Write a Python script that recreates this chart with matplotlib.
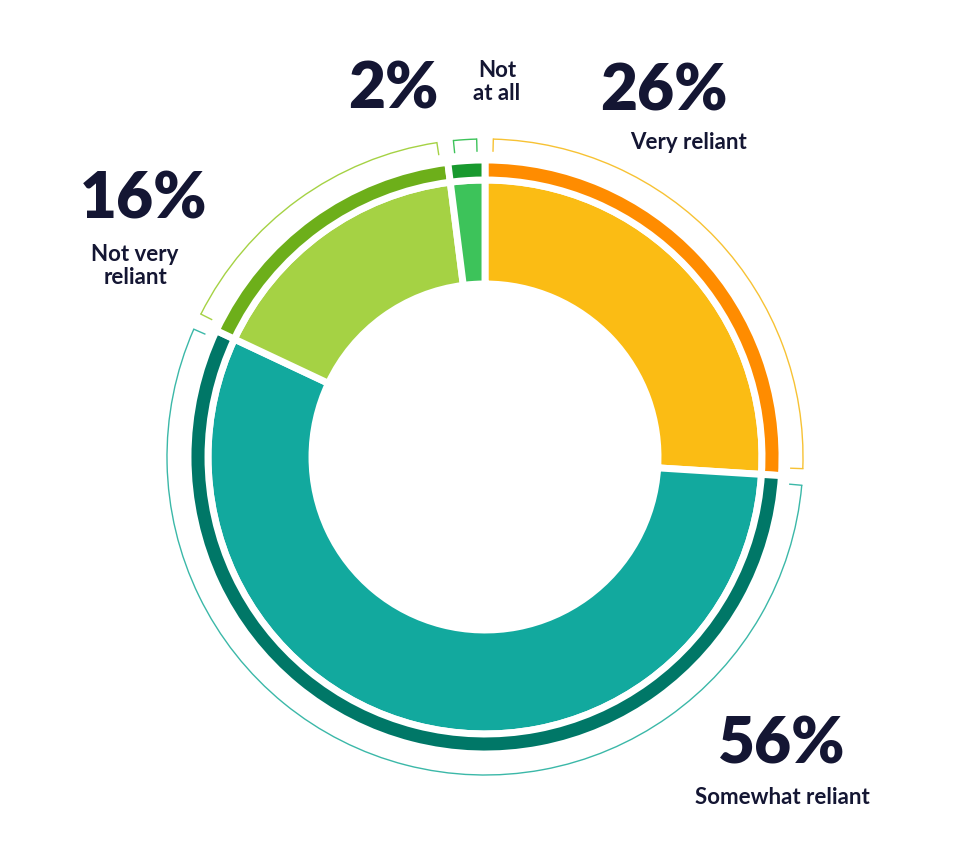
import numpy as np
import matplotlib.pyplot as plt
from matplotlib.patches import Wedge, Arc

labels = ['Very reliant', 'Somewhat reliant', 'Not very\nreliant', 'Not\nat all']
values = [26, 56, 16, 2]
inner_colors = ['#FBBC14', '#12A99E', '#A5D244', '#3DC35A']
rim_colors = ['#FF8C00', '#007767', '#6DAF1A', '#18992E']
line_colors = ['#F7C234', '#3BB8A8', '#A5D244', '#3DC35A']
navy = '#141633'

fig = plt.figure(figsize=(9.8, 8.57), dpi=100)
ax = fig.add_axes([0, 0, 1, 1])
ax.set_xlim(0, 980)
ax.set_ylim(0, 857)
ax.set_aspect('equal')
ax.axis('off')

cx, cy = 485, 400
r_in, r_mid, r_out, r_line = 173, 277, 297, 318

start = 90
for val, c1, c2, lc in zip(values, inner_colors, rim_colors, line_colors):
    span = val / sum(values) * 360
    t1, t2 = start - span, start
    ax.add_patch(Wedge((cx, cy), r_mid, t1, t2, width=r_mid - r_in, facecolor=c1,
                       edgecolor='white', linewidth=5))
    ax.add_patch(Wedge((cx, cy), r_out, t1, t2, width=r_out - r_mid, facecolor=c2,
                       edgecolor='white', linewidth=5))
    # thin bracket arc
    a1, a2 = t1 + 1.5, t2 - 1.5
    ax.add_patch(Arc((cx, cy), 2 * r_line, 2 * r_line, theta1=a1, theta2=a2,
                     color=lc, linewidth=1))
    for a in (a1, a2):
        rad = np.radians(a)
        ax.plot([cx + r_line * np.cos(rad), cx + (r_line - 12) * np.cos(rad)],
                [cy + r_line * np.sin(rad), cy + (r_line - 12) * np.sin(rad)],
                color=lc, linewidth=1)
    start = t1

big = dict(family='Lato', weight='heavy', color=navy, fontsize=46)
small = dict(family='Lato', weight='bold', color=navy, fontsize=16)
Y = lambda y: 857 - y
ax.text(600, Y(92), '26%', ha='left', va='center', **big)
ax.text(630, Y(142), 'Very reliant', ha='left', va='center', **small)
ax.text(718, Y(745), '56%', ha='left', va='center', **big)
ax.text(695, Y(798), 'Somewhat reliant', ha='left', va='center', **small)
ax.text(80, Y(200), '16%', ha='left', va='center', **big)
ax.text(135, Y(266), 'Not very\nreliant', ha='center', va='center', linespacing=1.1, **small)
ax.text(348, Y(90), '2%', ha='left', va='center', **big)
ax.text(497, Y(82), 'Not\nat all', ha='center', va='center', linespacing=1.1, **small)

fig.savefig('out.png', dpi=100, facecolor='white')
